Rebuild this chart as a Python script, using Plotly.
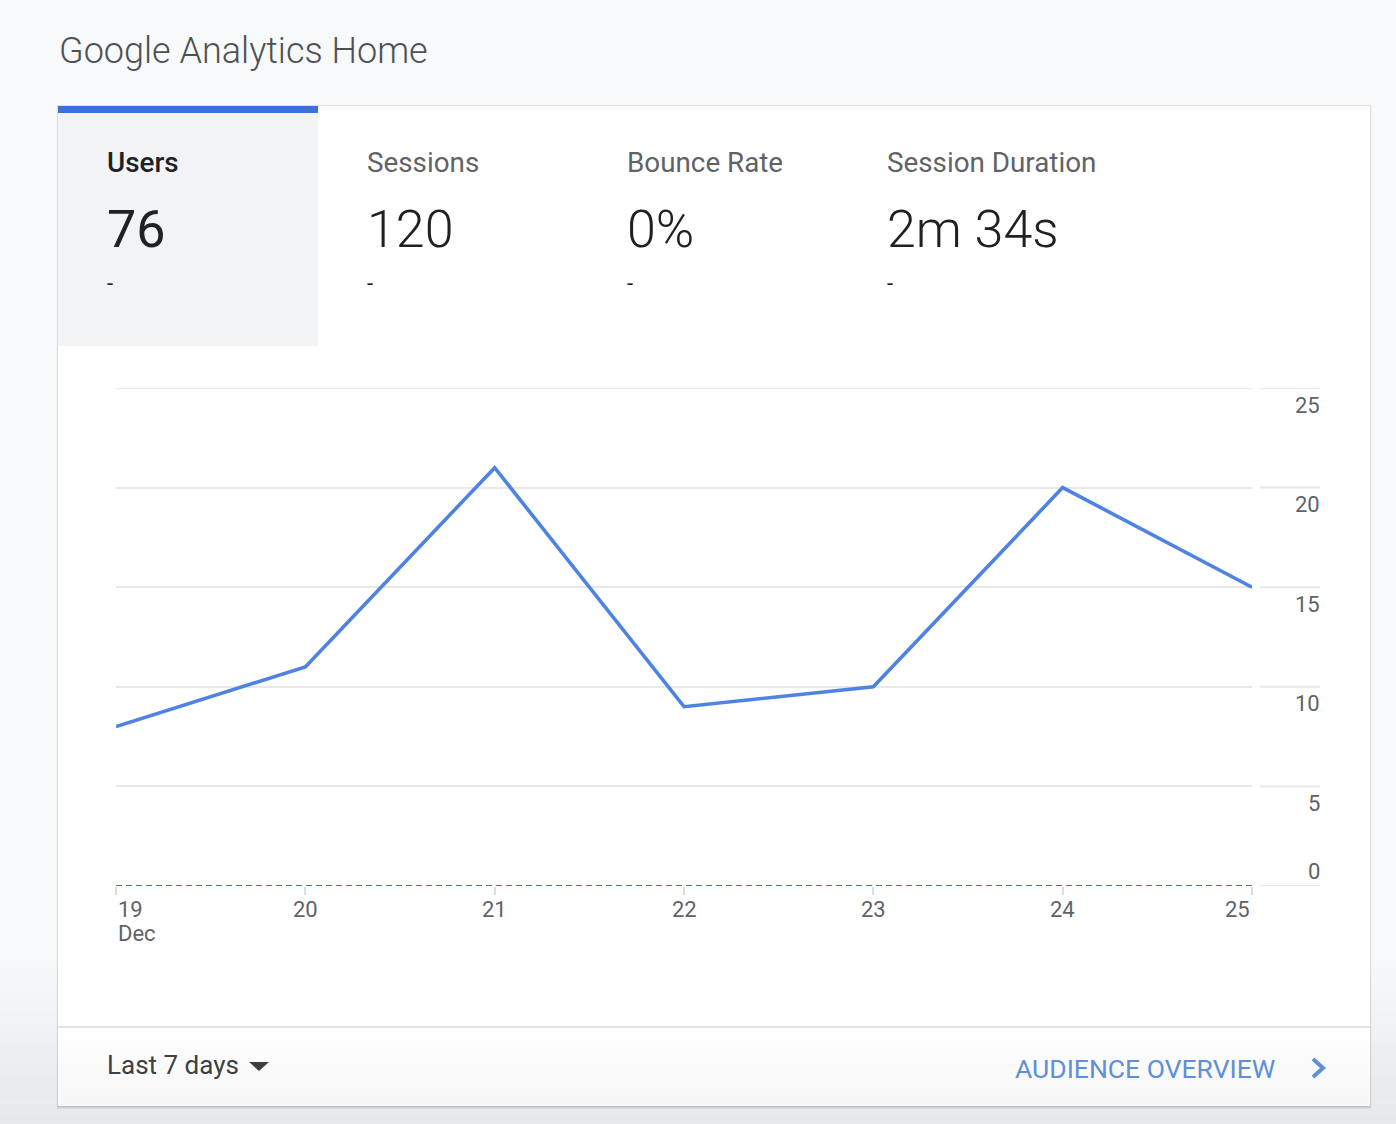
import plotly.graph_objects as go

W, H = 1396, 1124

# ---- data ----
days = [19, 20, 21, 22, 23, 24, 25]
day_labels = ["19", "20", "21", "22", "23", "24", "25"]
users = [8, 11, 21, 9, 10, 20, 15]
y_ticks = [0, 5, 10, 15, 20, 25]
y_tick_labels = ["0", "5", "10", "15", "20", "25"]
metric_names = ["Users", "Sessions", "Bounce Rate", "Session Duration"]
metric_values = ["76", "120", "0%", "2m 34s"]
metric_changes = ["-", "-", "-", "-"]

FONT = "Roboto"


def px(x):
    return x / W


def py(y):
    return 1 - y / H


fig = go.Figure()

fig.add_trace(go.Scatter(
    x=days, y=users, mode="lines",
    line=dict(color="#4f83e3", width=3.6),
    cliponaxis=False, hoverinfo="skip", showlegend=False,
))

shapes = []
# background bottom shading (soft gradient)
start, end = 960, 1124
n = 16
c0 = (248, 249, 250)
c1 = (230, 231, 232)
for i in range(n):
    a = start + (end - start) * i / n
    b = start + (end - start) * (i + 1) / n
    t = (i + 0.5) / n
    col = tuple(round(c0[k] + (c1[k] - c0[k]) * t) for k in range(3))
    shapes.append(dict(type="rect", xref="paper", yref="paper", x0=0, x1=1,
                       y0=py(b), y1=py(a), fillcolor="rgb(%d,%d,%d)" % col,
                       line_width=0, layer="below"))
# card shadow
shapes.append(dict(type="rect", xref="paper", yref="paper", x0=px(56.5), x1=px(1371.5),
                   y0=py(1109), y1=py(105), fillcolor="rgba(0,0,0,0.05)", line_width=0, layer="below"))
shapes.append(dict(type="rect", xref="paper", yref="paper", x0=px(57.5), x1=px(1370.5),
                   y0=py(1107.5), y1=py(105.5), fillcolor="rgba(0,0,0,0.12)", line_width=0, layer="below"))
# card
shapes.append(dict(type="rect", xref="paper", yref="paper", x0=px(58), x1=px(1370),
                   y0=py(1106), y1=py(106), fillcolor="#ffffff", line_width=0, layer="below"))
# footer gradient
fn = 8
for i in range(fn):
    a = 1028 + (1106 - 1028) * i / fn
    b = 1028 + (1106 - 1028) * (i + 1) / fn
    v = round(255 - 9 * (i + 0.5) / fn)
    shapes.append(dict(type="rect", xref="paper", yref="paper", x0=px(58), x1=px(1370),
                       y0=py(b), y1=py(a), fillcolor="rgb(%d,%d,%d)" % (v, v, v),
                       line_width=0, layer="below"))
# divider
shapes.append(dict(type="line", xref="paper", yref="paper", x0=px(58), x1=px(1370),
                   y0=py(1027), y1=py(1027), line=dict(color="#dadce0", width=1.5), layer="below"))
# active tab
shapes.append(dict(type="rect", xref="paper", yref="paper", x0=px(58), x1=px(318),
                   y0=py(346), y1=py(113), fillcolor="#f1f3f4", line_width=0, layer="below"))
shapes.append(dict(type="rect", xref="paper", yref="paper", x0=px(58), x1=px(318),
                   y0=py(113), y1=py(106), fillcolor="#3b72d9", line_width=0, layer="below"))
# top gridline (at range edge)
shapes.append(dict(type="line", xref="x", yref="y", x0=days[0], x1=days[-1],
                   y0=y_ticks[-1], y1=y_ticks[-1], line=dict(color="#e8e8e8", width=2), layer="below"))
# right-side gridline segments
for v in y_ticks:
    shapes.append(dict(type="line", xref="paper", yref="y", x0=px(1260), x1=px(1320),
                       y0=v, y1=v, line=dict(color="#e8e8e8", width=2), layer="above"))
# dashed zero line
shapes.append(dict(type="line", xref="x", yref="y", x0=days[0], x1=days[-1], y0=0, y1=0,
                   line=dict(color="#3f6fd6", width=2.2, dash="6px,4px"), layer="above"))
# dropdown triangle
tri = f"M {px(249)},{py(1062)} L {px(269)},{py(1062)} L {px(259)},{py(1071)} Z"
shapes.append(dict(type="path", xref="paper", yref="paper", path=tri,
                   fillcolor="#3c4043", line_width=0))
# chevron
chev = f"M {px(1313)},{py(1059)} L {px(1323)},{py(1068)} L {px(1313)},{py(1077)}"
shapes.append(dict(type="path", xref="paper", yref="paper", path=chev,
                   line=dict(color="#5e8fd8", width=4)))

ann = []


def text(x, y, s, size, color, weight=400, xanchor="left", xref="paper", yref="paper", yshift=0):
    ann.append(dict(x=x, y=y, xref=xref, yref=yref, text=s, showarrow=False,
                    xanchor=xanchor, yanchor="middle", yshift=yshift,
                    font=dict(family=FONT, size=size, color=color, weight=weight)))


text(px(57), py(51), "Google Analytics Home", 36, "#4d5156", weight=300)

tab_x = [107, 367, 627, 887]
for i, (n_, v, c) in enumerate(zip(metric_names, metric_values, metric_changes)):
    active = i == 0
    text(px(tab_x[i] - 2), py(163), n_, 27.8, "#202124" if active else "#5f6368",
         weight=500 if active else 400)
    text(px(tab_x[i] - 2), py(229), v, 52, "#202124", weight=400 if active else 300)
    text(px(tab_x[i] - 2), py(283), c, 22, "#202124")

# y tick labels (right side)
for v, lab in zip(y_ticks, y_tick_labels):
    text(px(1322), v, lab, 22, "#5f6368", xanchor="right", yref="y",
         yshift=15 if v == 0 else -17)

# x tick labels
for i, (d, lab) in enumerate(zip(days, day_labels)):
    if i == 0:
        xa = "left"
    elif i == len(days) - 1:
        xa = "right"
    else:
        xa = "center"
    text(d, py(909), lab, 22, "#5f6368", xanchor=xa, xref="x")
text(days[0], py(933), "Dec", 22, "#5f6368", xanchor="left", xref="x")

text(px(105), py(1065), "Last 7 days", 26, "#3c4043")
text(px(1277), py(1068), "AUDIENCE OVERVIEW", 26.5, "#5e8fd8", xanchor="right")

fig.update_layout(
    width=W, height=H,
    margin=dict(l=0, r=0, t=0, b=0),
    paper_bgcolor="#f8f9fa",
    plot_bgcolor="rgba(0,0,0,0)",
    shapes=shapes,
    annotations=ann,
    showlegend=False,
    xaxis=dict(domain=[px(116), px(1252)], range=[days[0], days[-1]],
               tickvals=days, showticklabels=False, ticks="outside", ticklen=8,
               tickcolor="#dcdcdc", tickwidth=1.5, showgrid=False, zeroline=False,
               showline=False, fixedrange=True),
    yaxis=dict(domain=[py(886), py(388)], range=[0, 25], tickvals=y_ticks,
               showticklabels=False, showgrid=True, gridcolor="#e8e8e8", gridwidth=2,
               zeroline=False, showline=False, fixedrange=True),
)

fig.write_html("out.html", config={"displayModeBar": False},
               post_script="document.body.style.margin='0';document.body.style.overflow='hidden';")
